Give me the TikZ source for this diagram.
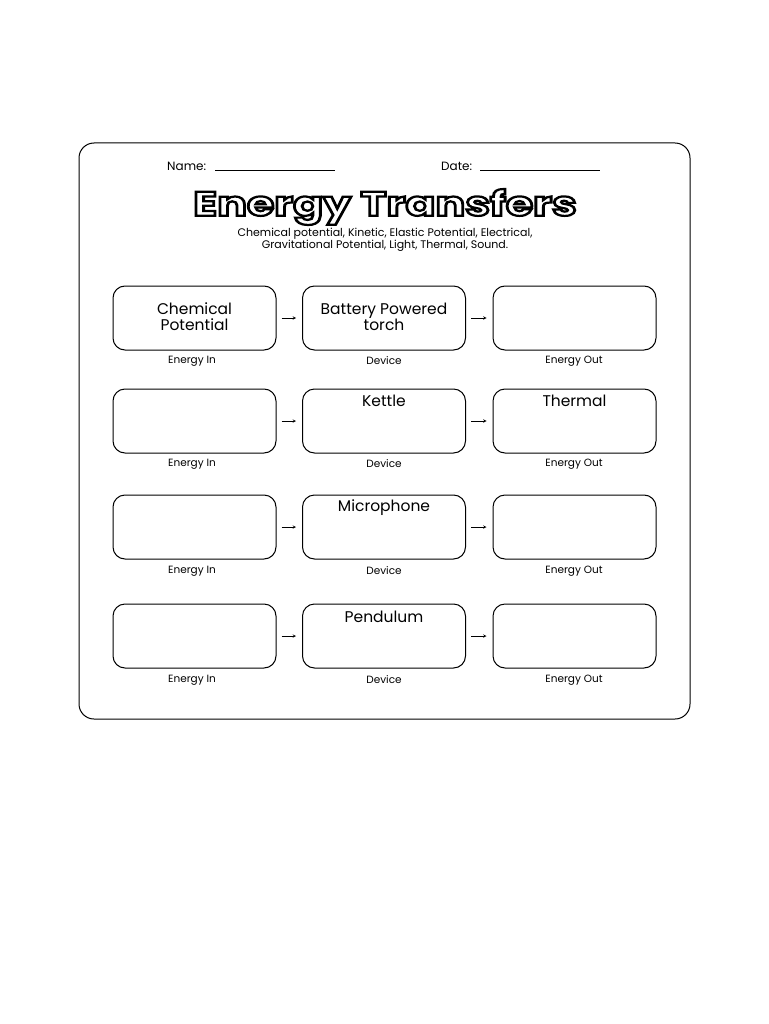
\documentclass[tikz,border=0pt]{standalone}
\usepackage{fontspec}
\setmainfont{Poppins}
\newfontfamily\titlefont{Poppins Bold}
\newcommand{\outlinetext}[1]{\special{pdf:literal direct 2 Tr 2.2 w 1 1 1 rg 0 0 0 RG}#1\special{pdf:literal direct 0 Tr}}
\begin{document}
\begin{tikzpicture}[x=1pt,y=-1pt,
  box/.style={draw,line width=1pt,rounded corners=12pt,minimum width=163pt,minimum height=64pt,inner sep=0pt},
  lbl/.style={font=\fontsize{10.5}{11}\selectfont},
  intext/.style={font=\fontsize{15.5}{16}\selectfont,align=center},
  arr/.style={-stealth,line width=0.5pt,shorten >=6pt,shorten <=5pt}]
\useasboundingbox (0,0) rectangle (768,1024);
\draw[line width=1pt,rounded corners=15pt] (79,143) rectangle (690,719);
\node[font=\fontsize{12}{12}\selectfont,anchor=west,inner sep=0pt] (nm) at (167,166) {Name:};
\coordinate (n1) at (215,170); \coordinate (n2) at (335,170);
\draw[line width=0.4pt] (n1) -- (n2);
\node[font=\fontsize{12}{12}\selectfont,anchor=west,inner sep=0pt] (dt) at (441,166) {Date:};
\coordinate (d1) at (480,170); \coordinate (d2) at (600,170);
\draw[line width=0.4pt] (d1) -- (d2);
\node[font=\titlefont\fontsize{34}{36}\selectfont,xscale=1.3] (title) at (385,207) {\outlinetext{Energy Transfers}};
\node[font=\fontsize{11}{12.5}\selectfont,align=center] (sub) at (385,240) {Chemical potential, Kinetic, Elastic Potential, Electrical,\\Gravitational Potential, Light, Thermal, Sound.};
\foreach \r/\y/\ly in {1/318/361,2/421/464,3/527/571,4/636/680}{
  \node[box] (a\r) at (194.5,\y) {};
  \node[box] (b\r) at (384,\y) {};
  \node[box] (c\r) at (574.5,\y) {};
  \draw[arr] (a\r) -- (b\r);
  \draw[arr] (b\r) -- (c\r);
  \node[lbl] (la\r) at (192,\ly) {Energy In};
  \node[lbl] (lb\r) at (384,\ly) {Device};
  \node[lbl] (lc\r) at (574,\ly) {Energy Out};
}
\node[intext] at (194.5,317) {Chemical\\Potential};
\node[intext] at (384,317) {Battery Powered\\torch};
\node[intext] at (384,401) {Kettle};
\node[intext] at (574.5,401) {Thermal};
\node[intext] at (384,508) {Microphone};
\node[intext] at (384,617) {Pendulum};
\end{tikzpicture}
\end{document}
